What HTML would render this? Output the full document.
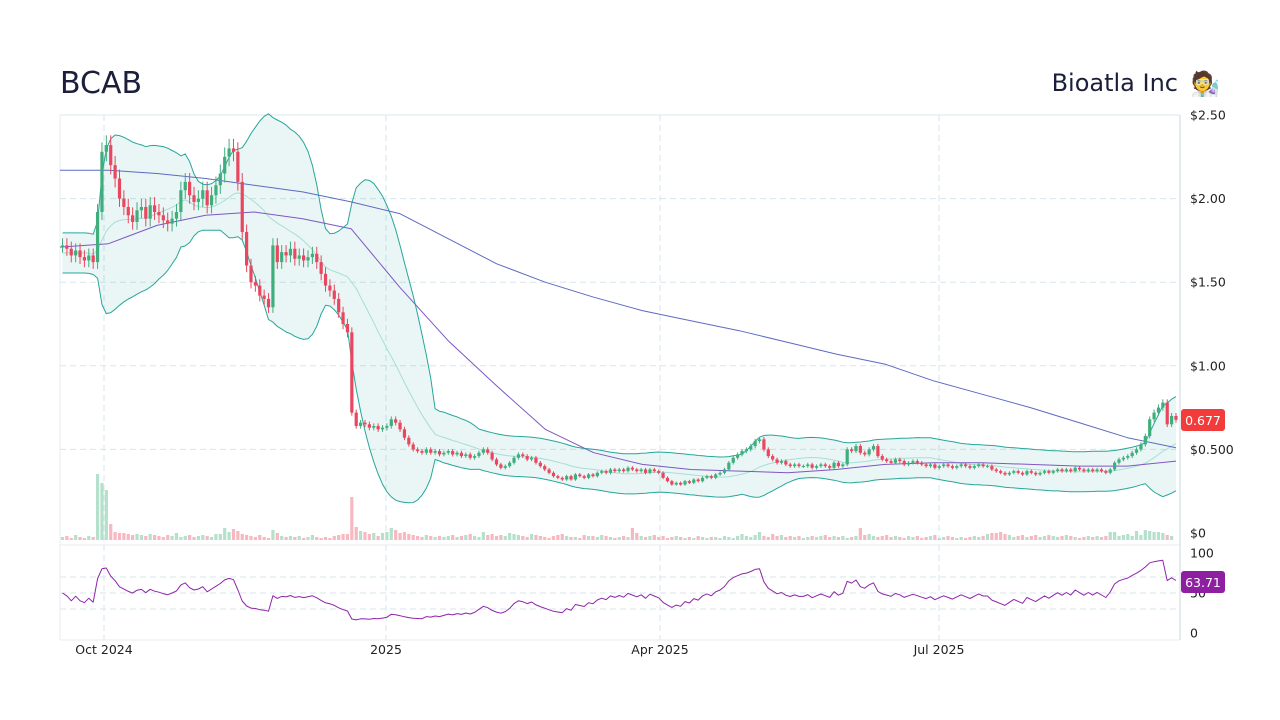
<!DOCTYPE html>
<html><head><meta charset="utf-8"><style>
body{margin:0;background:#fff;width:1280px;height:720px;overflow:hidden;font-family:"DejaVu Sans","Liberation Sans",sans-serif}
svg{position:absolute;left:0;top:0}
</style></head><body>
<svg id="chart" width="1280" height="720"></svg>
<script>
const closes=[1.72,1.70,1.66,1.69,1.65,1.63,1.66,1.62,
1.92,2.28,2.32,
2.20,2.12,2.00,1.95,1.90,1.86,1.93,
1.95,1.88,1.96,1.92,1.90,1.87,1.85,1.88,1.92,
2.05,2.10,2.02,1.98,2.00,2.05,1.96,2.02,
2.08,2.15,2.25,2.30,2.28,2.10,
1.80,1.60,1.50,1.48,1.42,1.40,1.35,
1.72,1.62,1.68,1.66,1.70,1.64,1.66,1.63,1.65,1.67,1.62,
1.55,1.48,1.45,1.40,1.32,1.25,1.20,
0.72,0.64,0.66,0.65,0.63,0.64,0.62,0.63,0.64,
0.68,0.66,0.62,0.57,0.53,0.50,
0.49,0.48,0.50,0.48,0.49,0.47,0.48,0.49,0.47,0.48,0.46,0.47,0.45,0.46,0.48,0.50,0.48,
0.44,0.41,0.39,0.40,0.42,
0.45,0.47,0.46,0.44,0.45,0.42,
0.40,0.38,0.36,0.34,0.33,0.32,0.34,
0.32,0.35,0.34,0.33,0.35,0.34,0.36,
0.37,0.36,0.38,0.37,0.38,0.37,0.39,0.38,0.37,0.38,0.36,0.38,0.37,0.36,
0.33,0.31,0.29,0.30,0.29,0.31,0.30,0.32,0.31,
0.33,0.34,0.33,0.35,0.36,0.38,
0.42,0.45,0.47,0.49,0.50,0.52,0.55,0.56,
0.50,0.46,0.44,0.42,0.43,0.41,0.40,0.41,0.40,
0.40,0.41,0.39,0.40,0.41,0.40,0.39,0.42,0.40,0.41,
0.50,0.49,0.52,0.48,0.47,0.50,0.52,
0.46,0.44,0.43,0.42,0.44,0.43,0.41,0.42,0.43,0.42,0.41,
0.40,0.41,0.39,0.40,0.41,0.40,0.39,0.40,0.41,0.40,0.39,0.40,0.41,0.40,0.40,
0.38,0.37,0.36,0.35,0.36,0.37,0.36,0.35,0.37,0.36,0.35,0.36,0.37,0.36,
0.37,0.38,0.37,0.38,0.37,0.39,0.38,0.37,0.38,0.37,0.38,0.37,0.36,0.38,
0.42,0.44,0.45,0.46,0.48,0.50,0.53,0.58,
0.68,0.72,0.75,0.78,0.65,0.70,0.677];
const volumes=[3,4,2,5,3,2,4,3,66,57,50,16,8,7,7,6,5,6,
5,4,6,5,4,3,5,4,7,3,4,5,3,4,5,4,3,6,
6,12,8,11,9,6,5,4,3,5,3,2,10,7,4,3,4,3,4,2,3,5,3,
2,3,2,4,5,6,6,43,13,9,8,6,7,4,7,8,
12,10,7,8,6,5,4,3,5,4,3,4,3,4,5,3,4,5,6,4,3,
8,5,6,4,5,4,7,6,5,4,3,6,5,4,3,2,4,5,6,4,3,3,2,5,4,
4,3,5,4,3,2,3,4,3,12,7,4,3,4,5,3,4,2,3,
4,3,2,3,2,4,3,2,3,3,2,4,3,2,4,
6,4,3,5,8,4,3,6,4,5,3,4,3,4,2,3,4,
3,4,5,3,4,3,4,2,3,4,12,5,6,4,3,4,5,3,4,3,2,4,3,
4,2,3,4,5,2,3,4,3,2,3,2,3,4,3,4,
6,7,7,8,6,5,3,4,5,3,4,5,3,4,
5,4,3,4,5,4,3,2,3,4,3,4,3,4,
8,8,4,5,6,4,9,5,
10,9,8,8,7,5,4];
const ma200=[2.17,2.17,2.15,2.12,2.08,2.04,1.98,1.91,1.76,1.61,1.50,1.41,1.33,1.27,1.21,1.14,1.07,1.01,0.91,0.83,0.75,0.66,0.57,0.51];
const ma50=[1.71,1.73,1.84,1.90,1.92,1.88,1.82,1.47,1.15,0.88,0.62,0.48,0.41,0.38,0.37,0.36,0.38,0.41,0.42,0.42,0.41,0.40,0.40,0.43];
const priceTicks=[0,0.5,1,1.5,2,2.5];
const priceLabels=["$0","$0.500","$1.00","$1.50","$2.00","$2.50"];
const rsiTicks=[0,50,100];
const dateLabels=["Oct 2024","2025","Apr 2025","Jul 2025"];
const dateX=[104,386,660,939];

const svg=document.getElementById('chart');
const NS='http://www.w3.org/2000/svg';
function mk(t,a,p){const e=document.createElementNS(NS,t);for(const k in a)e.setAttribute(k,a[k]);(p||svg).appendChild(e);return e;}
const L=60,R=1180,N=closes.length;
const xs=i=>62.5+i*(1176-62.5)/(N-1);
const py=p=>533-p*167.2;
const ry=v=>633-v*0.8;
const vy=v=>540-v;

const grid=mk('g',{});
priceTicks.forEach((p,i)=>{
 if(i>0) mk('line',{x1:L,x2:R,y1:py(p),y2:py(p),stroke:'#d6e6ec','stroke-dasharray':'6,4'},grid);
 const t=mk('text',{x:1190,y:py(p)+4.5,'font-size':12.5,fill:'#222'});t.textContent=priceLabels[i];
 
});
mk('line',{x1:L,x2:R,y1:115,y2:115,stroke:'#dbe8ee'},grid);
dateX.forEach((x,i)=>{
 mk('line',{x1:x,x2:x,y1:115,y2:640,stroke:'#d6e6ec','stroke-dasharray':'6,4'},grid);
 const t=mk('text',{x:x,y:654,'font-size':12.5,fill:'#222','text-anchor':'middle'});t.textContent=dateLabels[i];
 
});
[70,50,30].forEach(v=>mk('line',{x1:L,x2:R,y1:ry(v),y2:ry(v),stroke:'#d6e6ec','stroke-dasharray':'6,4'},grid));
mk('line',{x1:L,x2:R,y1:545,y2:545,stroke:'#e4eef2'},grid);
mk('line',{x1:L,x2:R,y1:640,y2:640,stroke:'#e4eef2'},grid);
mk('line',{x1:L,x2:L,y1:115,y2:640,stroke:'#e4eef2'},grid);
mk('line',{x1:R,x2:R,y1:115,y2:640,stroke:'#c8d8de'},grid);
rsiTicks.forEach(v=>{const t=mk('text',{x:1190,y:ry(v)+4.5,'font-size':12.5,fill:'#222'});t.textContent=v;
 });

const up=[],lo=[],mid=[];
for(let i=0;i<N;i++){const s=Math.max(0,i-19),e=Math.max(i,5);const w=closes.slice(s,e+1);
 const m=w.reduce((a,b)=>a+b,0)/w.length;const sd=Math.max(0.06,Math.sqrt(w.reduce((a,b)=>a+(b-m)*(b-m),0)/w.length));
 mid.push(m);up.push(m+2*sd);lo.push(m-2*sd);}
let d='';for(let i=0;i<N;i++)d+=(i?'L':'M')+xs(i)+','+py(up[i]);
for(let i=N-1;i>=0;i--)d+='L'+xs(i)+','+py(lo[i]);
const band=mk('path',{d:d+'Z',fill:'rgba(38,166,154,0.1)'});
const line=(arr,f,c,w,name)=>{let s='';arr.forEach((v,i)=>s+=(i?'L':'M')+f(i).toFixed(1)+','+v.toFixed(1));const e=mk('path',{d:s,fill:'none',stroke:c,'stroke-width':w,'stroke-linejoin':'round'});return e;};
line(up.map(py),xs,'#26a69a',1,'bollinger-upper');
line(lo.map(py),xs,'#26a69a',1,'bollinger-lower');
line(mid.map(py),xs,'#a8ddd6',1,'bollinger-middle');
const mx=i=>L+i*(1176-L)/(ma200.length-1);
line(ma200.map(py),mx,'#5c6bc0',1,'sma-200-line');
line(ma50.map(py),mx,'#7e57c2',1,'sma-50-line');

for(let i=0;i<N;i++){
 const o=i?closes[i-1]:closes[0],c=closes[i];const upC=c>=o;
 const v=mk('rect',{x:xs(i)-1.6,y:vy(volumes[i]),width:3.2,height:volumes[i],fill:upC?'#b5e0cb':'#f7b8c0'});
 
 const col=upC?'#3fae7c':'#e8475f';const hi=Math.max(o,c)*1.025,lw=Math.min(o,c)*0.975;
 const g=mk('g',{});
 mk('line',{x1:xs(i),x2:xs(i),y1:py(hi),y2:py(lw),stroke:col,'stroke-width':1},g);
 mk('rect',{x:xs(i)-1.6,y:py(Math.max(o,c)),width:3.2,height:Math.max(1,Math.abs(py(o)-py(c))),fill:col},g);
}
const rsi=[];let ag=0.01,al=0.01;
for(let i=0;i<N;i++){if(i==0){rsi.push(50);continue;}const ch=closes[i]-closes[i-1];const g=Math.max(ch,0),l=Math.max(-ch,0);
 ag=(ag*13+g)/14;al=(al*13+l)/14;
 rsi.push(100-100/(1+ag/al));}
line(rsi.map(ry),xs,'#8e24aa',1,'rsi-line');

const pl=mk('g',{});
mk('rect',{x:1181,y:409,width:44,height:22,rx:3,fill:'#f23b3b'},pl);
const t1=mk('text',{x:1203,y:425,'font-size':12.5,fill:'#fff','text-anchor':'middle'},pl);t1.textContent=closes[N-1].toFixed(3);
const rl=mk('g',{});
mk('rect',{x:1181,y:571,width:44,height:22,rx:3,fill:'#8e1fa0'},rl);
const t2=mk('text',{x:1203,y:587,'font-size':12.5,fill:'#fff','text-anchor':'middle'},rl);t2.textContent='63.71';
const tt=mk('text',{x:60,y:93,'font-size':30,fill:'#1b1f3b'});tt.textContent='BCAB';

const cn=mk('text',{x:1178,y:91,'font-size':24,fill:'#1b1f3b','text-anchor':'end'});cn.textContent='Bioatla Inc';

const em=mk('text',{x:1190,y:92,'font-size':24});em.textContent='🧑‍🔬';

</script></body></html>
